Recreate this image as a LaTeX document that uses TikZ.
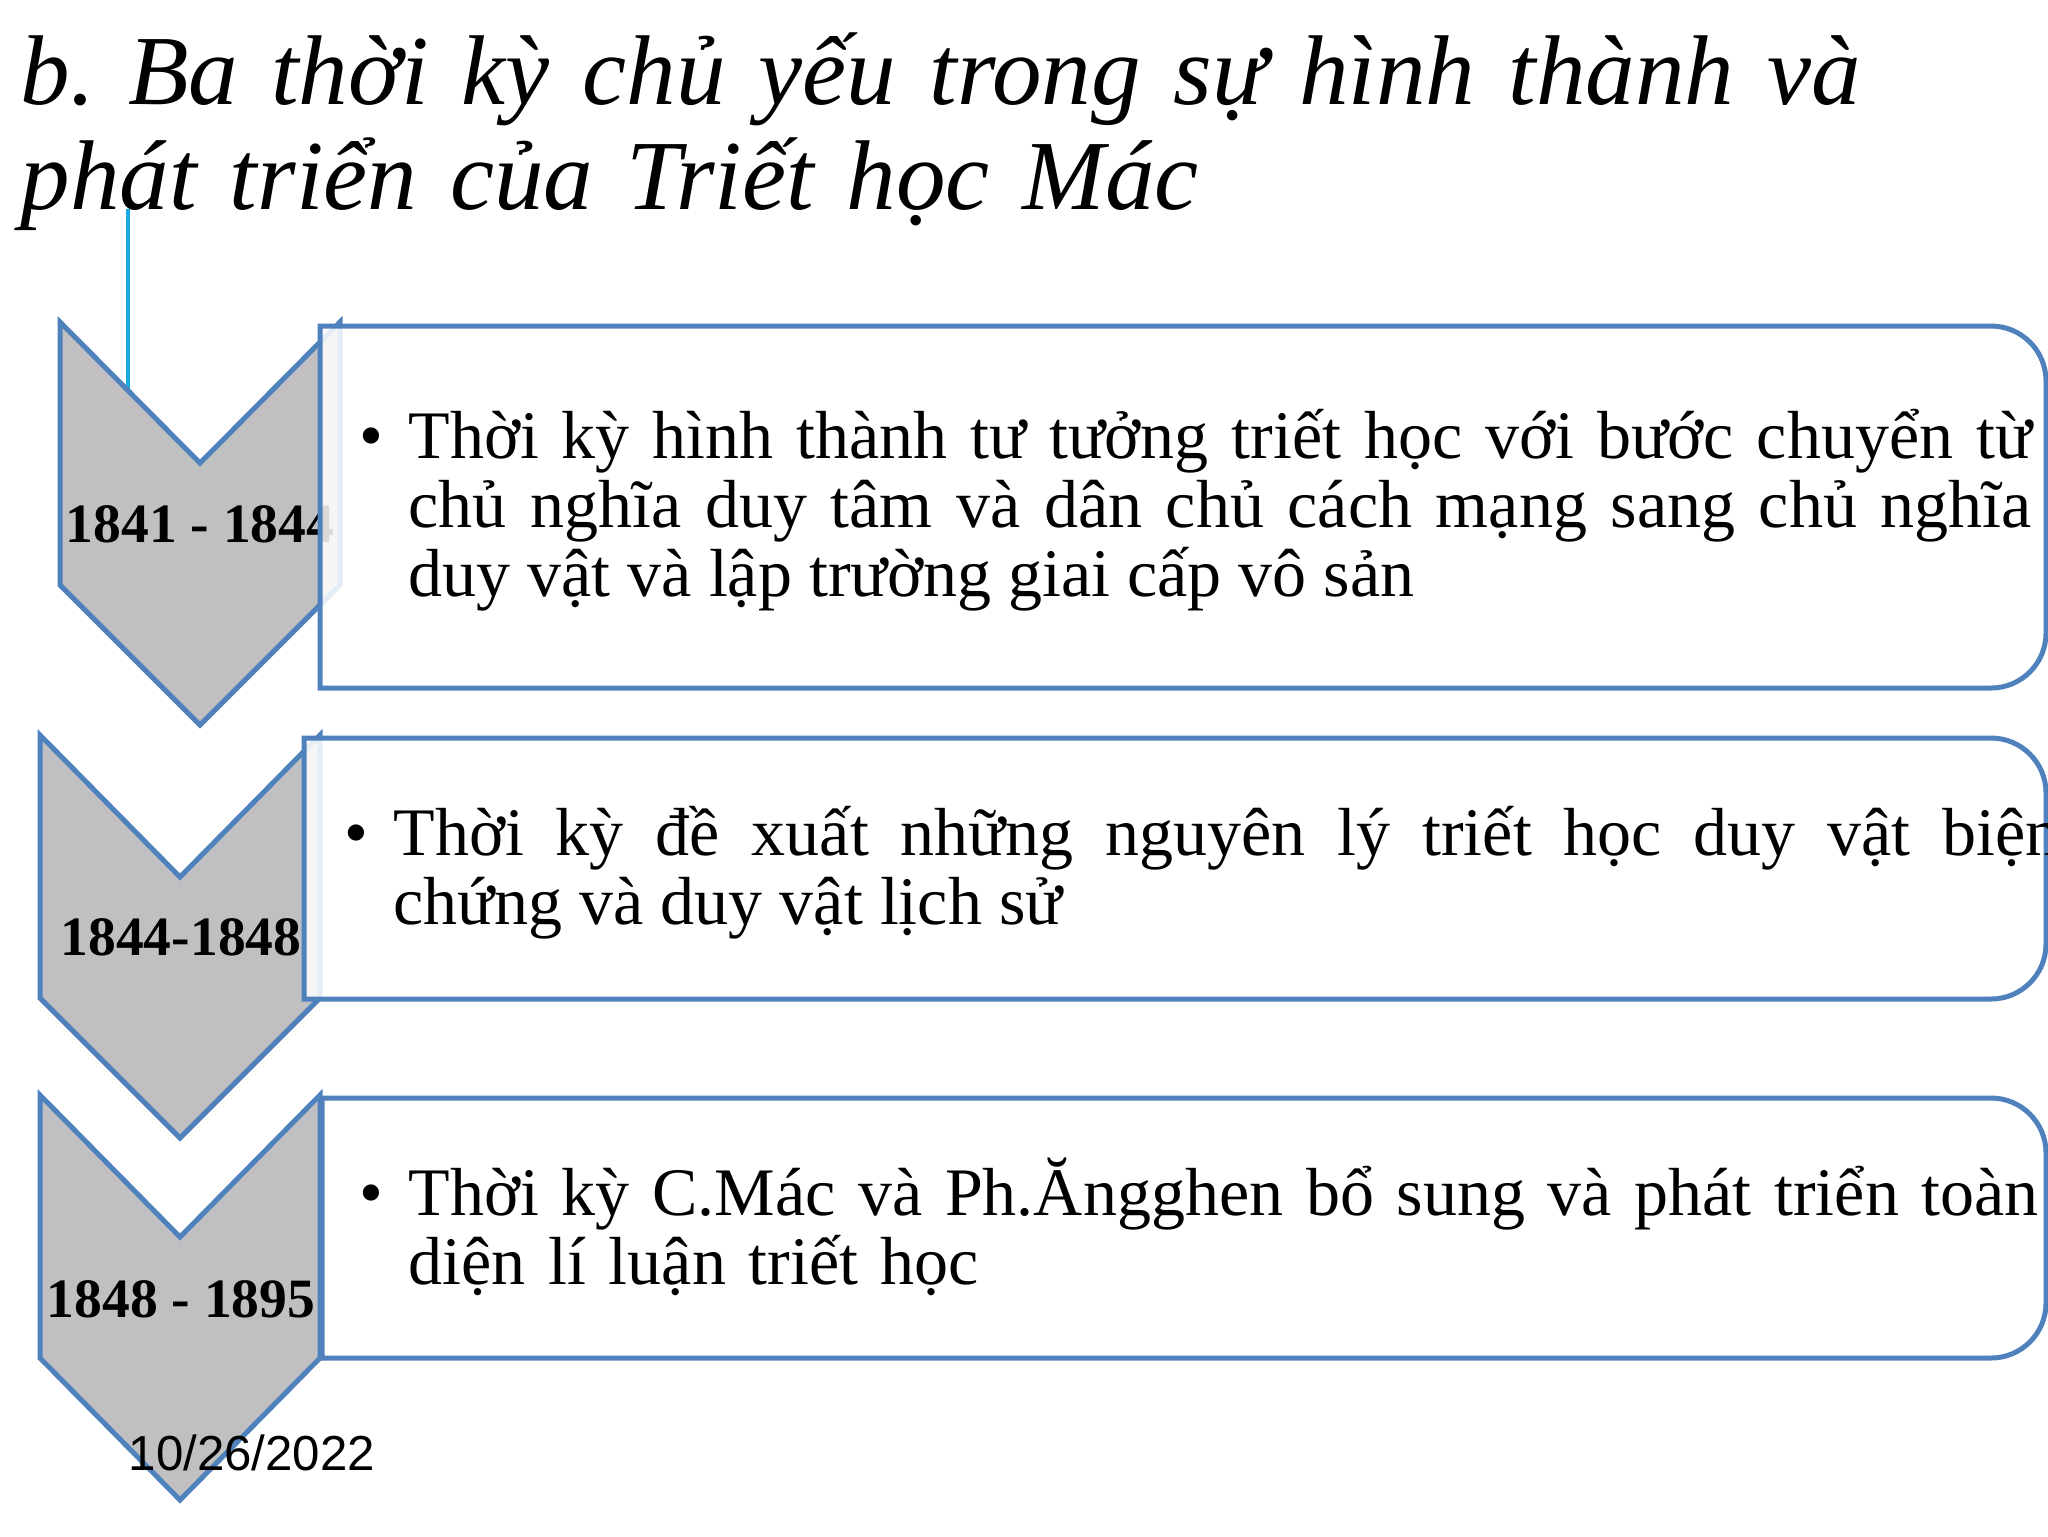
\documentclass[tikz,border=0pt]{standalone}
\usepackage{fontspec}
\setmainfont{Liberation Serif}
\newfontfamily\datefont{Liberation Sans}
\usepackage{tikz}
\usepackage{xcolor}
\definecolor{chevblue}{RGB}{79,129,189}
\definecolor{chevgray}{RGB}{192,191,193}
\definecolor{linecyan}{RGB}{24,170,222}
\tikzstyle{chevron} = [draw=chevblue, fill=chevgray, line width=0.5mm, line join=miter]
\tikzstyle{periodbox} = [draw=chevblue, fill=white, fill opacity=0.85, draw opacity=1, line width=0.5mm]
\tikzstyle{yearlabel} = [anchor=base, inner sep=0pt, font=\bfseries\fontsize{15.8pt}{18pt}\selectfont]
\tikzstyle{itemtext} = [anchor=base west, inner sep=0pt, align=justify, font=\fontsize{19.35pt}{19.63pt}\selectfont]
\newcommand{\itembullet}{\llap{\textbullet\hspace{2.5mm}}}

\begin{document}
\frenchspacing
\begin{tikzpicture}[x=0.1mm, y=-0.1mm]
\useasboundingbox (0,0) rectangle (2048,1536);
\clip (0,0) rectangle (2048,1536);
\fill[white] (0,0) rectangle (2048,1536);

% Guide line from the title
\coordinate (guidetop) at (128,209);
\coordinate (guideend) at (128,390);
\draw[linecyan, line width=0.35mm] (guidetop) -- (guideend);

% First period
\draw[chevron] (60,322) -- (200,463) -- (340,322) -- (340,585) -- (200,725) -- (60,585) -- cycle;
\node (y1) [yearlabel] at (200,542) {1841 - 1844};
\draw[periodbox] (320,326) -- (1991,326) arc[start angle=90, end angle=0, radius=5.5mm]
  -- (2046,633) arc[start angle=0, end angle=-90, radius=5.5mm] -- (320,688) -- cycle;
\node (d1) [itemtext, text width=162.3mm] at (408,458) {\itembullet Thời kỳ hình thành tư tưởng triết học với bước chuyển từ\linebreak
  chủ nghĩa duy tâm và dân chủ cách mạng sang chủ nghĩa\linebreak
  duy vật và lập trường giai cấp vô sản};

% Second period
\draw[chevron] (40,735) -- (180,877) -- (320,735) -- (320,998) -- (180,1138) -- (40,998) -- cycle;
\node (y2) [yearlabel] at (181,955) {1844-1848};
\draw[periodbox] (304,738) -- (1991,738) arc[start angle=90, end angle=0, radius=5.5mm]
  -- (2046,944) arc[start angle=0, end angle=-90, radius=5.5mm] -- (304,999) -- cycle;
\node (d2) [itemtext, text width=166.6mm] at (393,855) {\itembullet Thời kỳ đề xuất những nguyên lý triết học duy vật biện\linebreak
  chứng và duy vật lịch sử};

% Third period
\draw[chevron] (40,1095) -- (180,1237) -- (320,1095) -- (320,1358) -- (180,1500) -- (40,1358) -- cycle;
\node (y3) [yearlabel] at (181,1317) {1848 - 1895};
\draw[periodbox] (322,1098) -- (1991,1098) arc[start angle=90, end angle=0, radius=5.5mm]
  -- (2046,1303) arc[start angle=0, end angle=-90, radius=5.5mm] -- (322,1358) -- cycle;
\node (d3) [itemtext, align=left, text width=170mm] at (408,1215) {\itembullet Thời kỳ C.Mác và Ph.Ăngghen bổ sung và phát triển toàn\\
  diện lí luận triết học};

% Title and date
\node (title) [anchor=base west, inner sep=0pt, text width=195mm, align=left,
  font=\itshape\fontsize{28.2pt}{29.9pt}\selectfont] at (20,104)
  {b. Ba thời kỳ chủ yếu trong sự hình thành và\\ phát triển của Triết học Mác};
\node (date) [anchor=base west, inner sep=0pt, font=\datefont\fontsize{14pt}{16pt}\selectfont] at (128,1470) {10/26/2022};
\end{tikzpicture}
\end{document}
